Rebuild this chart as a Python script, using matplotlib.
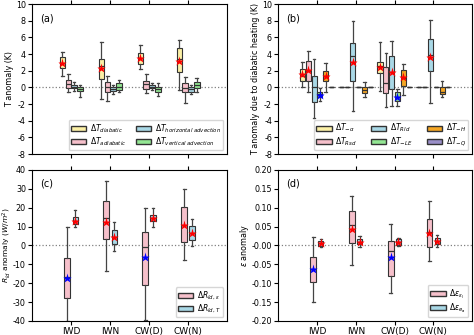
import numpy as np
import matplotlib.pyplot as plt
from matplotlib.patches import Patch

categories = ['IWD', 'IWN', 'CW(D)', 'CW(N)']

# box statistics per category: (whislo, q1, median, q3, whishi)
# (a) temperature anomaly budget
diab_stats = [(1.4, 2.3, 2.9, 3.6, 4.2), (-1.4, 1.0, 2.6, 3.4, 5.4),
              (2.2, 2.8, 3.5, 4.1, 5.1), (-0.3, 1.9, 3.4, 4.7, 5.7)]
diab_mean = [2.9, 2.3, 3.5, 3.2]
adiab_stats = [(-0.6, -0.1, 0.4, 0.9, 1.6), (-1.6, -0.5, 0.1, 0.6, 1.4),
               (-0.7, -0.2, 0.4, 0.8, 1.6), (-1.9, -0.6, -0.1, 0.5, 1.2)]
adiab_mean = [None, None, None, None]
horiz_stats = [(-0.4, -0.1, 0.1, 0.3, 0.6), (-0.8, -0.4, -0.2, 0.0, 0.3),
               (-0.3, -0.1, 0.1, 0.3, 0.5), (-0.8, -0.5, -0.2, 0.1, 0.3)]
horiz_mean = [None, None, None, None]
vert_stats = [(-1.1, -0.4, -0.2, 0.1, 0.3), (-0.6, -0.3, 0.1, 0.5, 0.9),
              (-1.0, -0.5, -0.2, 0.1, 0.5), (-0.6, -0.1, 0.3, 0.7, 1.1)]
vert_mean = [None, None, None, None]

# (b) diabatic heating decomposition
zero = (0, 0, 0, 0, 0)
alpha_stats = [(0.1, 0.8, 1.4, 2.2, 3.1), zero, (-0.4, 1.7, 2.6, 3.0, 5.5), zero]
alpha_mean = [1.6, None, 2.4, None]
rsd_stats = [(-0.5, 0.8, 2.0, 3.2, 4.4), zero, (-2.4, -0.7, 0.5, 2.5, 4.1), zero]
rsd_mean = [2.1, None, None, None]
rld_stats = [(-3.7, -1.8, 0.0, 1.4, 3.4), (-2.8, 0.8, 3.8, 5.3, 8.0),
             (-2.2, -0.2, 1.9, 3.8, 5.6), (-1.9, 2.0, 3.9, 5.8, 8.1)]
rld_mean = [None, 3.1, 1.9, 3.7]
le_stats = [(-1.6, -1.2, -0.8, -0.5, -0.1), zero, (-2.2, -1.6, -1.2, -0.6, -0.2), zero]
le_mean = [-0.9, None, -1.2, None]
h_stats = [(-0.5, 0.8, 1.4, 2.0, 2.9), (-1.2, -0.7, -0.3, 0.0, 0.7),
           (-0.9, 0.2, 1.1, 2.1, 2.8), (-1.1, -0.8, -0.5, 0.1, 0.8)]
h_mean = [1.4, None, 1.2, None]
q_stats = [zero, zero, zero, zero]
q_mean = [None, None, None, None]

# (c) longwave downward radiation anomaly
rld_eps_stats = [(-40, -27.6, -17.0, -6.5, 10.0), (-13.6, 3.2, 14.7, 23.7, 34.0),
                 (-39.5, -21.0, -0.9, 7.3, 20.0), (-8.0, 1.6, 10.8, 20.5, 30.0)]
rld_eps_mean = [-17.5, 12.5, -6.3, 10.7]
rld_t_stats = [(9.8, 11.5, 13.0, 14.9, 18.5), (-3.0, 0.7, 4.5, 8.1, 12.4),
               (10.0, 12.9, 14.7, 16.1, 20.0), (-0.5, 3.0, 6.5, 10.1, 13.8)]
rld_t_mean = [13.0, 4.3, 14.7, 6.8]

# (d) emissivity anomaly
eps_l_stats = [(-0.150, -0.098, -0.063, -0.031, 0.021), (-0.053, 0.006, 0.053, 0.090, 0.131),
               (-0.127, -0.080, -0.015, 0.012, 0.056), (-0.041, -0.005, 0.035, 0.071, 0.117)]
eps_l_mean = [-0.063, 0.044, -0.030, 0.033]
eps_e_stats = [(-0.003, -0.002, 0.005, 0.012, 0.016), (-0.004, 0.003, 0.010, 0.016, 0.026),
               (-0.002, 0.002, 0.010, 0.016, 0.019), (-0.004, 0.004, 0.012, 0.020, 0.027)]
eps_e_mean = [0.005, 0.010, 0.010, 0.012]

c_yellow = '#fbf0a6'
c_pink = '#f6c0cb'
c_blue = '#a9d8e6'
c_green = '#93e693'
c_orange = '#f5a623'
c_purple = '#9a8fc8'

plt.rcParams['font.size'] = 6
plt.rcParams['axes.unicode_minus'] = False
fig = plt.figure(figsize=(4.74, 3.35), dpi=100)
ax_a = fig.add_axes([0.068, 0.540, 0.411, 0.448])
ax_b = fig.add_axes([0.587, 0.540, 0.409, 0.448])
ax_c = fig.add_axes([0.068, 0.042, 0.411, 0.451])
ax_d = fig.add_axes([0.587, 0.042, 0.409, 0.451])

x = np.arange(len(categories))


def draw_series(ax, stats, means, offset, color, width=0.14):
    items = []
    for s in stats:
        lo, q1, med, q3, hi = s
        items.append(dict(whislo=lo, q1=q1, med=med, q3=q3, whishi=hi, fliers=[]))
    ax.bxp(items, positions=x + offset, widths=width, patch_artist=True,
           showfliers=False, manage_ticks=False,
           boxprops=dict(facecolor=color, edgecolor='#333333', linewidth=0.8),
           whiskerprops=dict(color='#444444', linewidth=0.9),
           capprops=dict(color='#444444', linewidth=0.9),
           medianprops=dict(color='#333333', linewidth=0.9))
    for xi, m in zip(x + offset, means):
        if m is None:
            continue
        ax.plot(xi, m, marker='*', ms=6.5, color='red' if m > 0 else 'blue',
                mec='none', zorder=5)


def style_axis(ax, ylim, yticks, label, tag, bottom_labels, label_x, label_size=5.8):
    ax.axhline(0, ls=':', color='gray', lw=0.9, zorder=0)
    ax.set_xlim(-1, 4)
    ax.set_ylim(*ylim)
    ax.set_yticks(yticks)
    ax.set_xticks(x)
    ax.tick_params(axis='x', top=True, bottom=True, direction='out', length=3, pad=1.5)
    ax.tick_params(axis='y', length=3, pad=1.5, labelsize=5.8)
    if bottom_labels:
        ax.set_xticklabels(categories, fontsize=6.5)
    else:
        ax.set_xticklabels([])
    ax.set_ylabel(label, fontsize=label_size)
    ax.yaxis.set_label_coords(label_x, 0.5)
    ax.text(0.04, 0.94, tag, transform=ax.transAxes, ha='left', va='top', fontsize=7)


leg_kw = dict(loc='lower right', fontsize=5.5, handlelength=2.0, handleheight=0.6,
              handletextpad=0.5, labelspacing=0.1, borderpad=0.3)

# (a)
draw_series(ax_a, diab_stats, diab_mean, -0.225, c_yellow)
draw_series(ax_a, adiab_stats, adiab_mean, -0.075, c_pink)
draw_series(ax_a, horiz_stats, horiz_mean, 0.075, c_blue)
draw_series(ax_a, vert_stats, vert_mean, 0.225, c_green)
style_axis(ax_a, (-8, 10), np.arange(-8, 11, 2), 'T anomaly (K)', '(a)', False, -0.095)
ax_a.legend(handles=[Patch(fc=c_yellow, ec='#333333', label=r'$\Delta T_{diabatic}$'),
                     Patch(fc=c_pink, ec='#333333', label=r'$\Delta T_{adiabatic}$'),
                     Patch(fc=c_blue, ec='#333333', label=r'$\Delta T_{horizontal\ advection}$'),
                     Patch(fc=c_green, ec='#333333', label=r'$\Delta T_{vertical\ advection}$')],
            ncol=2, columnspacing=1.2, **leg_kw)

# (b)
b_series = [(alpha_stats, alpha_mean, c_yellow), (rsd_stats, rsd_mean, c_pink),
            (rld_stats, rld_mean, c_blue), (le_stats, le_mean, c_green),
            (h_stats, h_mean, c_orange), (q_stats, q_mean, c_purple)]
for i, (st, mn, col) in enumerate(b_series):
    draw_series(ax_b, st, mn, -0.375 + 0.15 * i, col, width=0.13)
style_axis(ax_b, (-8, 10), np.arange(-8, 11, 2),
           'T anomaly due to diabatic heating (K)', '(b)', False, -0.095)
ax_b.legend(handles=[Patch(fc=c_yellow, ec='#333333', label=r'$\Delta T_{-\alpha}$'),
                     Patch(fc=c_pink, ec='#333333', label=r'$\Delta T_{Rsd}$'),
                     Patch(fc=c_blue, ec='#333333', label=r'$\Delta T_{Rld}$'),
                     Patch(fc=c_green, ec='#333333', label=r'$\Delta T_{-LE}$'),
                     Patch(fc=c_orange, ec='#333333', label=r'$\Delta T_{-H}$'),
                     Patch(fc=c_purple, ec='#333333', label=r'$\Delta T_{-Q}$')],
            ncol=3, columnspacing=1.8, **leg_kw)

# (c)
draw_series(ax_c, rld_eps_stats, rld_eps_mean, -0.1, c_pink, width=0.15)
draw_series(ax_c, rld_t_stats, rld_t_mean, 0.1, c_blue, width=0.13)
style_axis(ax_c, (-40, 40), np.arange(-40, 41, 10),
           r'$R_{ld}$ anomaly ($W/m^2$)', '(c)', True, -0.098, label_size=5.4)
ax_c.legend(handles=[Patch(fc=c_pink, ec='#333333', label=r'$\Delta R_{ld,\varepsilon}$'),
                     Patch(fc=c_blue, ec='#333333', label=r'$\Delta R_{ld,T}$')],
            **leg_kw)

# (d)
draw_series(ax_d, eps_l_stats, eps_l_mean, -0.1, c_pink, width=0.15)
draw_series(ax_d, eps_e_stats, eps_e_mean, 0.1, c_blue, width=0.13)
d_ticks = np.round(np.arange(-0.2, 0.21, 0.05), 2)
style_axis(ax_d, (-0.2, 0.2), d_ticks, r'$\varepsilon$ anomaly', '(d)', True, -0.14)
ax_d.set_yticklabels(['%.2f' % v for v in d_ticks])
ax_d.legend(handles=[Patch(fc=c_pink, ec='#333333', label=r'$\Delta\varepsilon_{\varepsilon_l}$'),
                     Patch(fc=c_blue, ec='#333333', label=r'$\Delta\varepsilon_{e_a}$')],
            **leg_kw)

fig.savefig('out.png', dpi=100)
